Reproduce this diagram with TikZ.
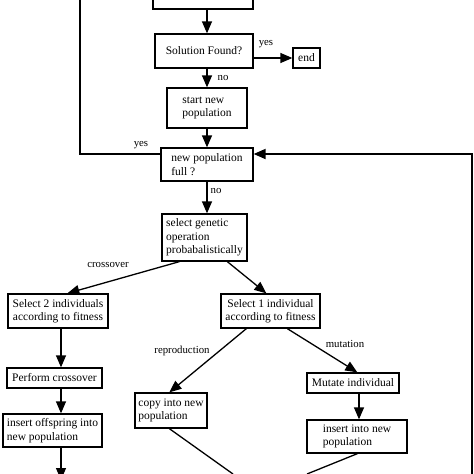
\documentclass[tikz,border=0pt]{standalone}
\usepackage{fontspec}
\setmainfont{Liberation Serif}
\usetikzlibrary{arrows.meta}
\begin{document}
\begin{tikzpicture}[x=1pt,y=-1pt,
  box/.style={draw,line width=1.3pt,inner sep=0pt,align=left,font=\fontsize{11.5}{13.5}\selectfont},
  conn/.style={line width=1.3pt},
  arr/.style={conn,-{Triangle[length=12pt,width=10pt]}},
  lbl/.style={font=\fontsize{10.8}{12}\selectfont,inner sep=0pt}]
\useasboundingbox (0,0) rectangle (474,474);
\fill[white] (0,0) rectangle (474,474);
\coordinate (spine) at (207,0);
\coordinate (lcol) at (61,0);
\coordinate (mcol) at (359,0);
% boxes
\node[box,minimum width=100,minimum height=30] (top) at (203,-6) {};
\node[box,minimum width=98,minimum height=34] (sol) at (204,51) {Solution Found?};
\node[box,minimum width=27,minimum height=20] (end) at (306.5,58) {end};
\node[box,minimum width=80,minimum height=40] (start) at (207,108) {start new\\population};
\node[box,minimum width=92,minimum height=33] (full) at (207,164.5) {new population\\full ?};
\node[box,minimum width=85,minimum height=47] (sel) at (204.5,237.5) {select genetic\\operation\\probabalistically};
\node[box,minimum width=100,minimum height=34,align=center] (s2) at (58,311) {Select 2 individuals\\according to fitness};
\node[box,minimum width=99,minimum height=34,align=center] (s1) at (270.5,311) {Select 1 individual\\according to fitness};
\node[box,minimum width=95,minimum height=20] (pc) at (54.5,378) {Perform crossover};
\node[box,minimum width=99,minimum height=33] (io) at (52.5,430.5) {insert offspring into\\new population};
\node[box,minimum width=72,minimum height=35] (cp) at (171,410.5) {copy into new\\population};
\node[box,minimum width=92,minimum height=20] (mu) at (353,383) {Mutate individual};
\node[box,minimum width=100,minimum height=33] (ii) at (357,436.5) {insert into new\\population};
% free ends
\coordinate (ioend) at (61,480);
\coordinate (cpend) at (233,474);
\coordinate (iiend) at (307,474);
\coordinate (rbot) at (472,480);
\coordinate (rtop) at (472,154);
\coordinate (ltop) at (80,-10);
\coordinate (lcorner) at (80,154);
% main spine
\draw[arr] (top.south -| spine) -- (sol.north -| spine);
\draw[arr] (sol.east |- end) -- (end.west);
\draw[arr] (sol.south -| spine) -- (start.north -| spine);
\draw[arr] (start.south -| spine) -- (full.north -| spine);
\draw[arr] (full.south -| spine) -- (sel.north -| spine);
% loops
\draw[conn] (full.west |- lcorner) -- (lcorner) -- (ltop);
\draw[arr,line width=1.8pt] (rbot) -- (rtop) -- (full.east |- rtop);
% branches
\draw[arr] ([xshift=18]sel.south west) -- ([xshift=60]s2.north west);
\draw[arr] ([xshift=66]sel.south west) -- ([xshift=46]s1.north west);
\draw[arr] (s2.south -| lcol) -- (pc.north -| lcol);
\draw[arr] (pc.south -| lcol) -- (io.north -| lcol);
\draw[arr] (io.south -| lcol) -- (ioend);
\draw[arr] ([xshift=26]s1.south west) -- ([xshift=35]cp.north west);
\draw[arr] ([xshift=67]s1.south west) -- ([xshift=51]mu.north west);
\draw[arr] (mu.south -| mcol) -- (ii.north -| mcol);
\draw[conn] ([xshift=35]cp.south west) -- (cpend);
\draw[conn] ([xshift=51]ii.south west) -- (iiend);
% labels
\node[lbl] (l1) at (266,44) {yes};
\node[lbl] (l2) at (223,78) {no};
\node[lbl] (l3) at (141,145) {yes};
\node[lbl] (l4) at (216,191) {no};
\node[lbl] (l5) at (108,265) {crossover};
\node[lbl] (l6) at (182,351) {reproduction};
\node[lbl] (l7) at (345,344) {mutation};
\end{tikzpicture}
\end{document}
